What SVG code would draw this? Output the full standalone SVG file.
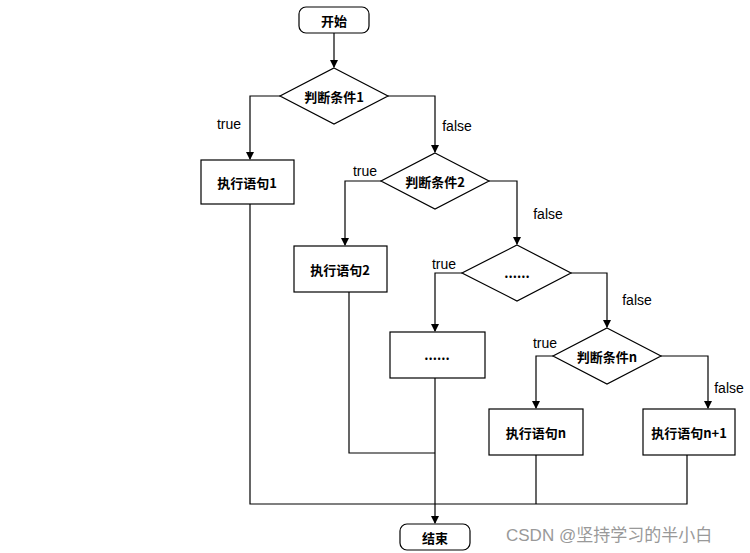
<svg xmlns="http://www.w3.org/2000/svg" width="750" height="553" viewBox="0 0 750 553">
<defs>
<marker id="a" markerWidth="8" markerHeight="8" refX="7" refY="4" orient="auto" markerUnits="userSpaceOnUse"><path d="M0,0 L8,4 L0,8 z" fill="#000"/></marker>
<style>
.s{fill:#fff;stroke:#000;stroke-width:1.2}
.t{font-family:"Noto Sans CJK SC",sans-serif;font-weight:bold;font-size:13px;text-anchor:middle;dominant-baseline:central}
.l{font-family:"Liberation Sans",sans-serif;font-size:14px;text-anchor:middle}
.c{fill:none;stroke:#000;stroke-width:1.2}
</style>
</defs>
<rect width="750" height="553" fill="#fff"/>
<g id="connectors" class="c">
<path d="M334,33 V67" marker-end="url(#a)"/>
<path d="M280,96 H250 V159" marker-end="url(#a)"/>
<path d="M388,96 H435 V152" marker-end="url(#a)"/>
<path d="M381,181 H345 V245" marker-end="url(#a)"/>
<path d="M489,181 H517 V244" marker-end="url(#a)"/>
<path d="M462,273 H435 V331" marker-end="url(#a)"/>
<path d="M571,273 H607 V327" marker-end="url(#a)"/>
<path d="M553,356 H536 V408" marker-end="url(#a)"/>
<path d="M661,356 H708 V408" marker-end="url(#a)"/>
<path d="M250,204 V504 H687 V455"/>
<path d="M536,455 V504"/>
<path d="M349,292 V453 H435"/>
<path d="M435,378 V523" marker-end="url(#a)"/>
</g>
<g class="l">
<text x="229" y="129">true</text>
<text x="457" y="131">false</text>
<text x="365" y="176">true</text>
<text x="548" y="219">false</text>
<text x="444" y="269">true</text>
<text x="637" y="305">false</text>
<text x="545" y="348">true</text>
<text x="729" y="393">false</text>
</g>
<g id="start"><rect class="s" x="299" y="7" width="70" height="26" rx="7"/><text class="t" x="334" y="20">开始</text></g>
<g id="d1"><polygon class="s" points="334,68 388,96 334,124 280,96"/><text class="t" x="334" y="96">判断条件1</text></g>
<g id="b1"><rect class="s" x="201" y="160" width="93" height="44"/><text class="t" x="247" y="182">执行语句1</text></g>
<g id="d2"><polygon class="s" points="435,153 489,181 435,209 381,181"/><text class="t" x="435" y="181">判断条件2</text></g>
<g id="b2"><rect class="s" x="294" y="246" width="93" height="46"/><text class="t" x="340" y="269">执行语句2</text></g>
<g id="d3"><polygon class="s" points="517,245 571,273 517,301 462,273"/><text class="t" x="517" y="272">......</text></g>
<g id="b3"><rect class="s" x="390" y="332" width="95" height="46"/><text class="t" x="437" y="354">......</text></g>
<g id="dn"><polygon class="s" points="607,328 661,356 607,384 553,356"/><text class="t" x="607" y="356">判断条件n</text></g>
<g id="bn"><rect class="s" x="489" y="409" width="94" height="46"/><text class="t" x="536" y="432">执行语句n</text></g>
<g id="bn1"><rect class="s" x="643" y="409" width="92" height="46"/><text class="t" x="689" y="432">执行语句n+1</text></g>
<g id="end"><rect class="s" x="400" y="524" width="70" height="26" rx="7"/><text class="t" x="435" y="537">结束</text></g>
<text x="506" y="541" font-family="'Liberation Sans','Noto Sans CJK SC',sans-serif" font-size="17" fill="#999">CSDN @坚持学习的半小白</text>
</svg>
